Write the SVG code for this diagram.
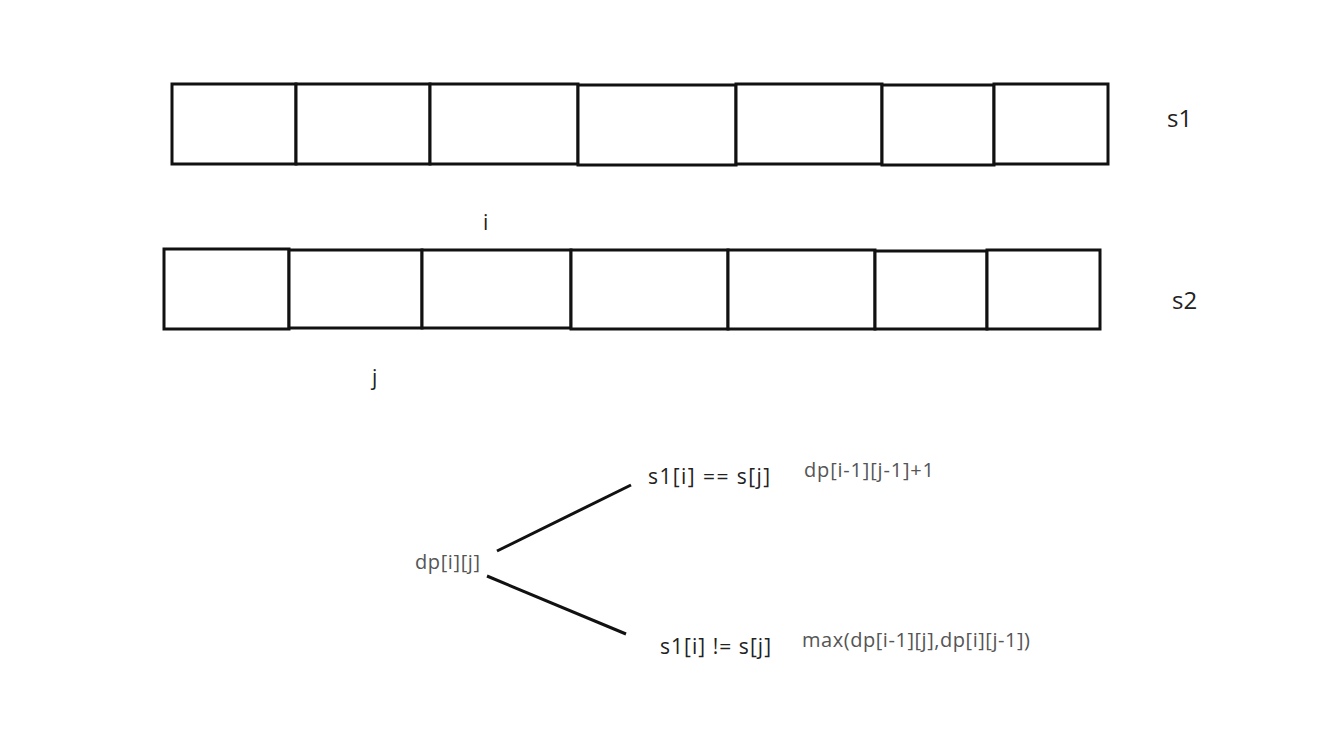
<svg xmlns="http://www.w3.org/2000/svg" width="1334" height="731" viewBox="0 0 1334 731">
<style>
.cell{fill:#fff;stroke:#111;stroke-width:3}
.lbl{font-family:"Open Sans","Noto Sans",sans-serif;fill:#222}
.gray{font-family:"Open Sans","Noto Sans",sans-serif;fill:#555}
.conn{stroke:#111;stroke-width:3;fill:none}
</style>
<rect width="1334" height="731" fill="#fff"/>
<g id="s1-array">
<rect class="cell" x="172" y="84" width="124" height="80"/>
<rect class="cell" x="296" y="84" width="134" height="80"/>
<rect class="cell" x="430" y="84" width="148" height="80"/>
<rect class="cell" x="578" y="85" width="158" height="80"/>
<rect class="cell" x="736" y="84" width="146" height="80"/>
<rect class="cell" x="882" y="85" width="112" height="80"/>
<rect class="cell" x="994" y="84" width="114" height="80"/>
</g>
<g id="s1-label"><text class="lbl" x="1167" y="127" font-size="24">s1</text></g>
<g id="i-label"><text class="lbl" x="483" y="230" font-size="21">i</text></g>
<g id="s2-array">
<rect class="cell" x="164" y="249" width="125" height="80"/>
<rect class="cell" x="289" y="250" width="133" height="78"/>
<rect class="cell" x="422" y="250" width="149" height="78"/>
<rect class="cell" x="571" y="250" width="157" height="79"/>
<rect class="cell" x="728" y="250" width="147" height="79"/>
<rect class="cell" x="875" y="251" width="112" height="78"/>
<rect class="cell" x="987" y="250" width="113" height="79"/>
</g>
<g id="s2-label"><text class="lbl" x="1172" y="309" font-size="24">s2</text></g>
<g id="j-label"><text class="lbl" x="372" y="385" font-size="21">j</text></g>
<g id="dp-node"><text class="gray" x="415" y="569" font-size="20" textLength="65">dp[i][j]</text></g>
<g id="eq-node">
<text class="lbl" x="648" y="484" font-size="21" textLength="122">s1[i] == s[j]</text>
<text class="gray" x="804" y="477" font-size="20" textLength="130">dp[i-1][j-1]+1</text>
</g>
<g id="neq-node">
<text class="lbl" x="660" y="654" font-size="21" textLength="111">s1[i] != s[j]</text>
<text class="gray" x="802" y="647" font-size="20" textLength="228">max(dp[i-1][j],dp[i][j-1])</text>
</g>
<g id="connectors">
<line class="conn" x1="497" y1="551" x2="631" y2="485"/>
<line class="conn" x1="487" y1="576" x2="626" y2="634"/>
</g>
</svg>
